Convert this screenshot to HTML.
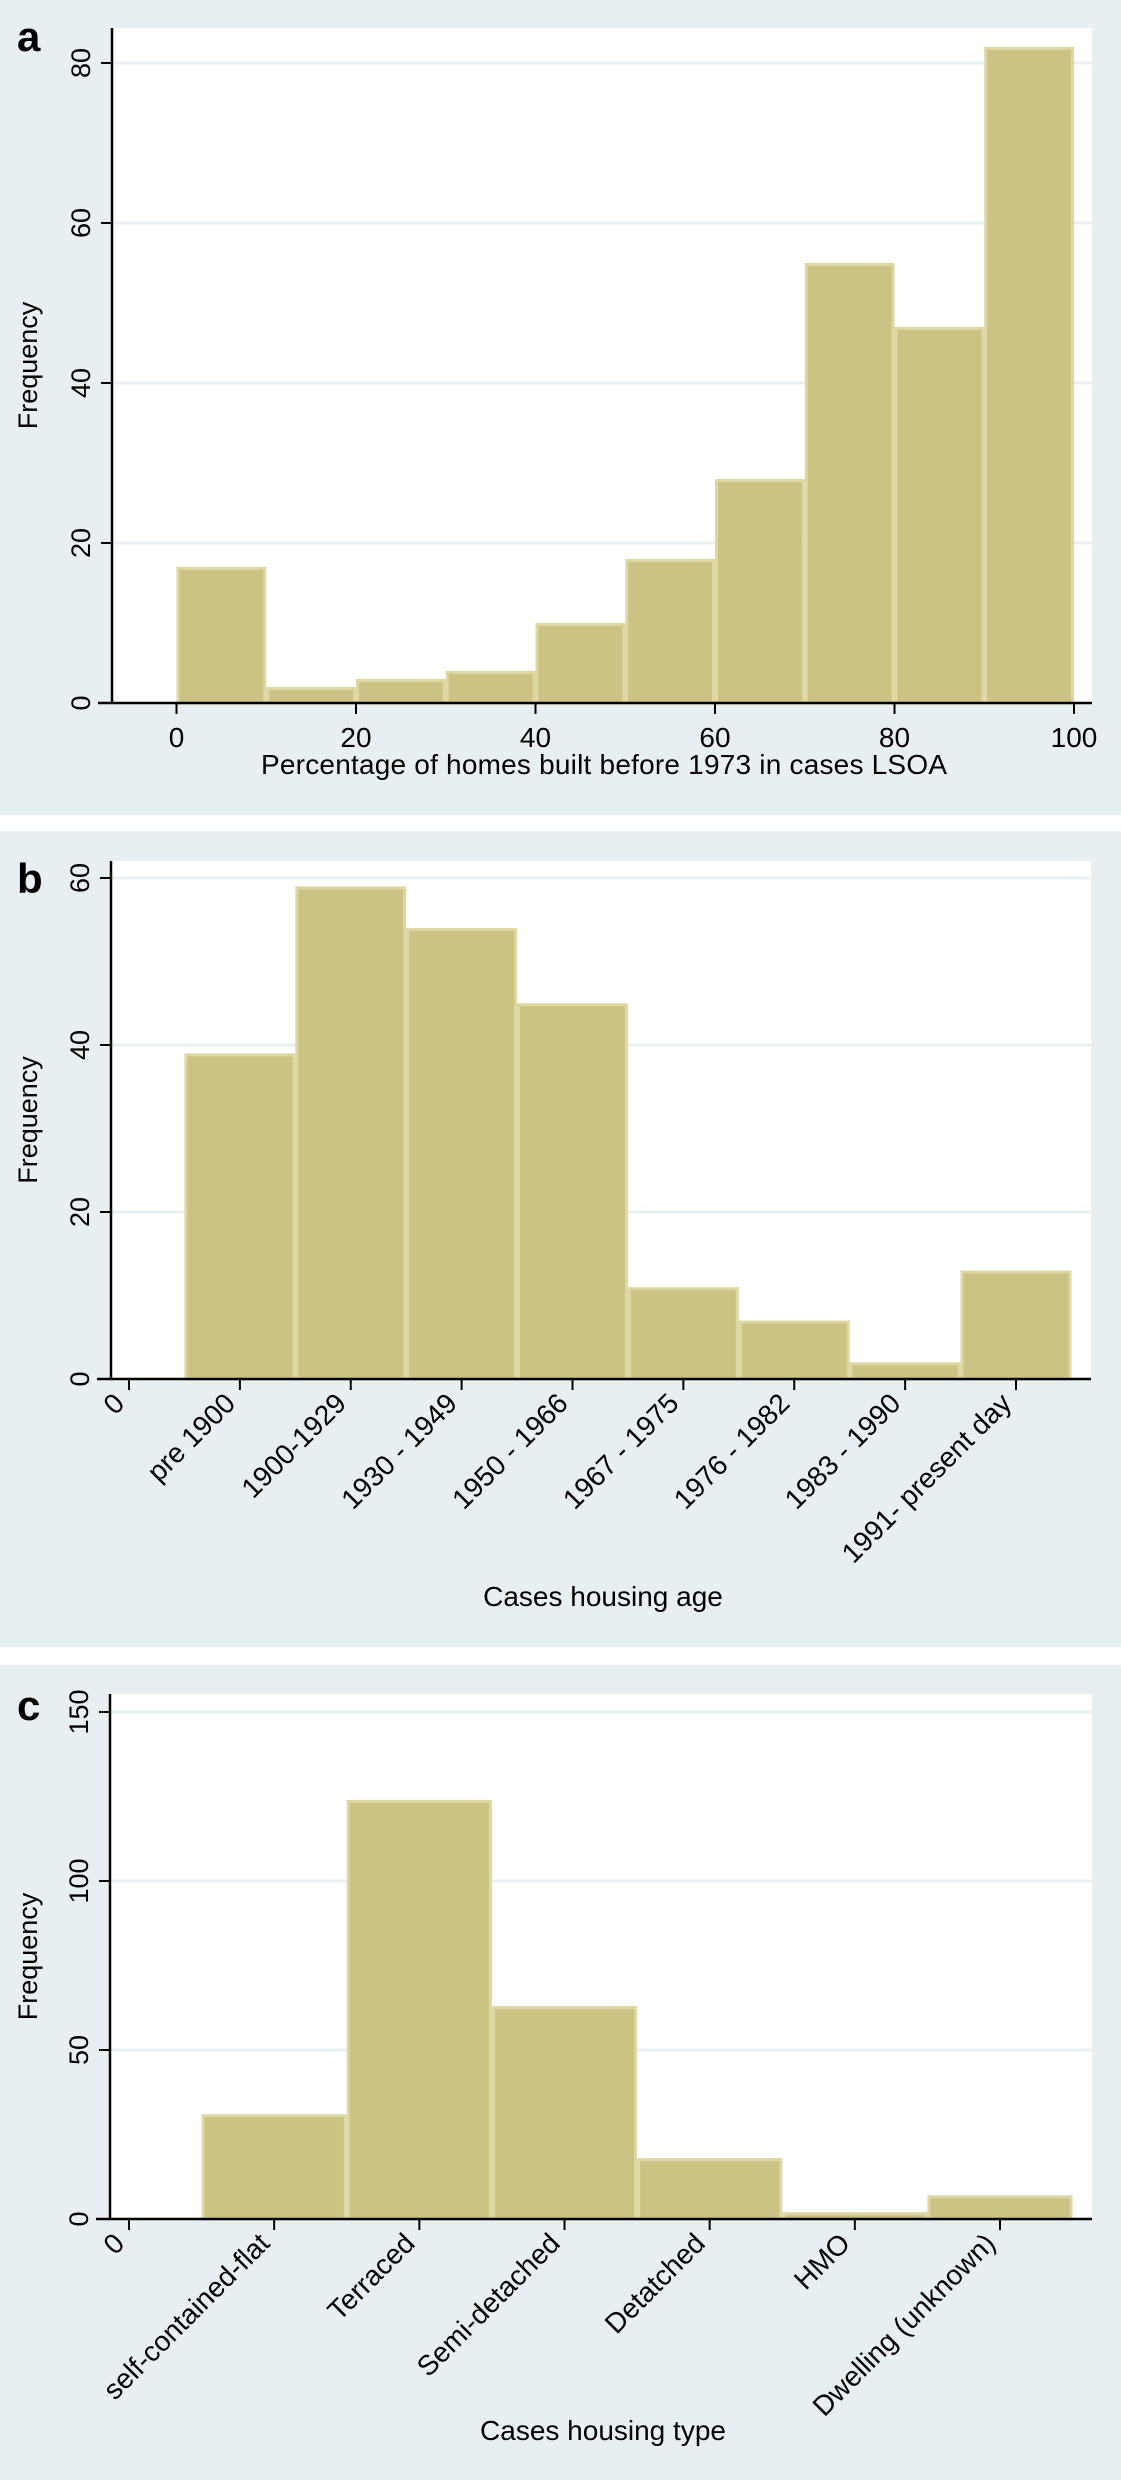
<!DOCTYPE html>
<html><head><meta charset="utf-8">
<style>
html,body{margin:0;padding:0;background:#fff;}
svg{display:block;font-family:"Liberation Sans",Arial,sans-serif;}
</style></head>
<body>
<svg id="fig" width="1121" height="2480" viewBox="0 0 1121 2480" xmlns="http://www.w3.org/2000/svg">
<rect x="0" y="0" width="1121" height="2480" fill="#ffffff"/>
</svg>
<script>
// Panel a data
const aBinStarts = [0,10,20,30,40,50,60,70,80,90];
const aValues = [17,2,3,4,10,18,28,55,47,82];
const aXTicks = [0,20,40,60,80,100];
const aYTicks = [0,20,40,60,80];
// Panel b data
const bCategories = ["pre 1900","1900-1929","1930 - 1949","1950 - 1966","1967 - 1975","1976 - 1982","1983 - 1990","1991- present day"];
const bValues = [39,59,54,45,11,7,2,13];
const bYTicks = [0,20,40,60];
// Panel c data
const cCategories = ["self-contained-flat","Terraced","Semi-detached","Detatched","HMO","Dwelling (unknown)"];
const cValues = [31,124,63,18,2,7];
const cYTicks = [0,50,100,150];

const NS="http://www.w3.org/2000/svg";
const svg=document.getElementById('fig');
function mk(tag,attrs,parent,text){
  const e=document.createElementNS(NS,tag);
  for(const k in attrs)e.setAttribute(k,attrs[k]);
  if(text!==undefined)e.textContent=text;
  (parent||svg).appendChild(e);return e;
}
const BAR="#cbc383", BARSTROKE="#ddd7a2", GRID="#e9f0f2", BG="#e8eff2";

function panel(o){
  const g=mk('g',{});
  
  
  const bg=mk('rect',{x:0,y:o.bgTop,width:1121,height:o.bgBot-o.bgTop,fill:BG},g);
  
  
  const pa=mk('rect',{x:o.left,y:o.top,width:o.right-o.left,height:o.zero-o.top,fill:'#fff'},g);
  
  
  const y=v=>o.zero-(v/o.ymax)*(o.zero-o.ymaxY);
  o.yTicks.forEach(t=>{
    if(t===0)return;
    const l=mk('line',{x1:o.left,x2:o.right,y1:y(t),y2:y(t),stroke:GRID,'stroke-width':3},g);
    
    
  });
  o.bars.forEach((b,i)=>{
    const r=mk('rect',{x:b.x0+1.5,y:y(b.v)+1.5,width:b.x1-b.x0-3,height:Math.max(0,o.zero-y(b.v)-1.5),fill:BAR,stroke:BARSTROKE,'stroke-width':3},g);
    
    
  });
  const ya=mk('line',{x1:o.left,x2:o.left,y1:o.top,y2:o.zero+1,stroke:'#000','stroke-width':2.5},g);
  
  
  const xa=mk('line',{x1:o.left-14,x2:o.right,y1:o.zero,y2:o.zero,stroke:'#000','stroke-width':2.5},g);
  
  
  o.yTicks.forEach(t=>{
    mk('line',{x1:o.left-11,x2:o.left,y1:y(t),y2:y(t),stroke:'#000','stroke-width':2},g);
    const tx=mk('text',{x:0,y:0,'font-size':27,'text-anchor':'middle',transform:`translate(${o.left-22},${y(t)}) rotate(-90)`},g,String(t));
    
    
  });
  o.xTicks.forEach(t=>{
    mk('line',{x1:t.x,x2:t.x,y1:o.zero,y2:o.zero+11,stroke:'#000','stroke-width':2},g);
    let tx;
    if(o.rotate){
      tx=mk('text',{x:0,y:0,'font-size':28,'text-anchor':'end',transform:`translate(${t.x-3},${o.zero+26}) rotate(-45)`},g,t.label);
    } else {
      tx=mk('text',{x:t.x,y:o.zero+44,'font-size':28,'text-anchor':'middle'},g,t.label);
    }
    
    
  });
  const yt=mk('text',{x:0,y:0,'font-size':27,'text-anchor':'middle',transform:`translate(37,${(o.top+o.zero)/2}) rotate(-90)`},g,'Frequency');
  
  
  const xt=mk('text',{x:o.xTitleX,y:o.xTitleY,'font-size':28,'text-anchor':'middle'},g,o.xTitle);
  if(o.xTitleLen)xt.setAttribute('textLength',o.xTitleLen);
  
  
  const lt=mk('text',{x:17,y:o.letterY,'font-size':42,'font-weight':'bold'},g,o.letter);
  
  
}

(function(){
  const x0=176.5, xs=(1074-176.5)/100;
  const X=v=>x0+v*xs;
  panel({name:'panel-a',letter:'a',letterY:51,bgTop:0,bgBot:815,left:112,right:1092,top:28,zero:703,ymax:80,ymaxY:63,
    yTicks:aYTicks,
    bars:aBinStarts.map((s,i)=>({x0:X(s),x1:X(s+10),v:aValues[i]})),
    xTicks:aXTicks.map(t=>({x:X(t),label:String(t)})),
    rotate:false,xTitle:'Percentage of homes built before 1973 in cases LSOA',xTitleX:604,xTitleY:774,xTitleLen:686});
})();
(function(){
  const x0=129, sp=(1016-129)/8;
  const X=i=>x0+i*sp;
  const ticks=[{x:X(0),label:'0'}].concat(bCategories.map((c,i)=>({x:X(i+1),label:c})));
  panel({name:'panel-b',letter:'b',letterY:893,bgTop:831,bgBot:1647,left:111,right:1091,top:861,zero:1379,ymax:60,ymaxY:878,
    yTicks:bYTicks,
    bars:bValues.map((v,i)=>({x0:X(i+1)-sp/2,x1:X(i+1)+sp/2,v:v})),
    xTicks:ticks,rotate:true,xTitle:'Cases housing age',xTitleX:603,xTitleY:1606});
})();
(function(){
  const x0=129, sp=(1000-129)/6;
  const X=i=>x0+i*sp;
  const ticks=[{x:X(0),label:'0'}].concat(cCategories.map((c,i)=>({x:X(i+1),label:c})));
  panel({name:'panel-c',letter:'c',letterY:1720,bgTop:1665,bgBot:2480,left:110,right:1092,top:1694,zero:2219,ymax:150,ymaxY:1712,
    yTicks:cYTicks,
    bars:cValues.map((v,i)=>({x0:X(i+1)-sp/2,x1:X(i+1)+sp/2,v:v})),
    xTicks:ticks,rotate:true,xTitle:'Cases housing type',xTitleX:603,xTitleY:2440});
})();
</script>
</body></html>
